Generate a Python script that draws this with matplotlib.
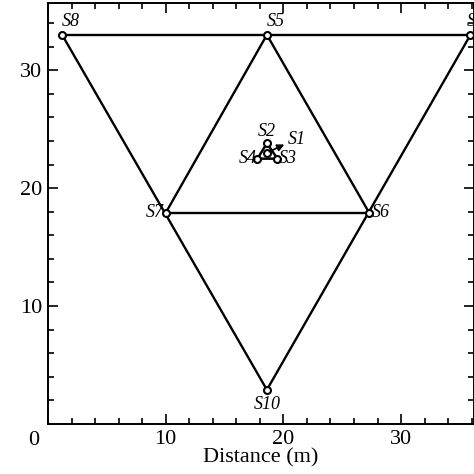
import matplotlib
matplotlib.use("Agg")
import matplotlib.pyplot as plt
from matplotlib.ticker import MultipleLocator

names = ["S8", "S5", "S9", "S7", "S6", "S10"]
xs = [1.2, 18.6, 35.9, 10.0, 27.3, 18.6]
ys = [33.0, 33.0, 33.0, 17.9, 17.9, 2.9]
edges = [("S8", "S9"), ("S8", "S10"), ("S9", "S10"), ("S7", "S6"), ("S5", "S7"), ("S5", "S6")]
cnames = ["S2", "S3", "S4", "S1"]
cx = [18.6, 19.5, 17.8, 18.6]
cy = [23.8, 22.5, 22.5, 23.0]

plt.rcParams['font.family'] = ['Liberation Serif', 'DejaVu Serif']
fig = plt.figure(figsize=(4.74, 4.74), dpi=100)
ax = fig.add_axes([48/474, 50/474, 426/474, 421/474])
pos = dict(zip(names, zip(xs, ys)))
for a, b in edges:
    ax.plot([pos[a][0], pos[b][0]], [pos[a][1], pos[b][1]], color='k', lw=1.7, zorder=1)
ax.plot(xs, ys, 'o', ms=5, mfc='white', mec='k', mew=1.5, zorder=3)
tri = [0, 1, 2, 0]
ax.plot([cx[i] for i in tri], [cy[i] for i in tri], color='k', lw=1.8, zorder=1)
ax.plot(cx, cy, 'o', ms=5, mfc='white', mec='k', mew=1.5, zorder=3)
ax.annotate("", xy=(20.3, 23.8), xytext=(cx[3], cy[3]),
            arrowprops=dict(arrowstyle='-|>', color='k', lw=1.3, mutation_scale=10))
it = dict(style='italic', fontsize=13)
ax.text(xs[0], ys[0]+0.4, "S8", ha='left', va='bottom', **it)
ax.text(xs[1], ys[1]+0.4, "S5", ha='left', va='bottom', **it)
ax.text(xs[2]-0.3, ys[2]+0.4, "S9", ha='left', va='bottom', **it)
ax.text(xs[3]-0.2, ys[3], "S7", ha='right', va='center', **it)
ax.text(xs[4]+0.2, ys[4], "S6", ha='left', va='center', **it)
ax.text(xs[5], ys[5]-0.5, "S10", ha='center', va='top', **it)
ax.text(cx[0], cy[0]+0.3, "S2", ha='center', va='bottom', **it)
ax.text(cx[1]+0.1, cy[1], "S3", ha='left', va='center', **it)
ax.text(cx[2]-0.1, cy[2], "S4", ha='right', va='center', **it)
ax.text(20.4, 24.1, "S1", ha='left', va='center', **it)

ax.set_xlim(0, 36.2)
ax.set_ylim(0, 35.7)
ax.xaxis.set_minor_locator(MultipleLocator(2))
ax.yaxis.set_minor_locator(MultipleLocator(2))
ax.tick_params(which='both', direction='in', top=True, right=True, labelsize=16, width=1.2)
ax.tick_params(which='major', length=7, pad=4)
ax.tick_params(which='minor', length=4)
ax.set_xticks([10, 20, 30])
ax.set_yticks([10, 20, 30])
ax.text(-1.2, -0.6, "0", ha='center', va='top', fontsize=16)
ax.set_xlabel("Distance (m)", fontsize=16, labelpad=0)
for s in ax.spines.values():
    s.set_linewidth(1.4)
fig.savefig("out.png", dpi=100)
